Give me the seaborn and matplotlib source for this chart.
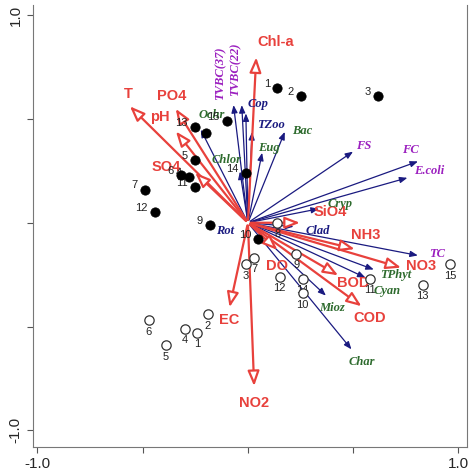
import matplotlib
matplotlib.use("Agg")
import matplotlib.pyplot as plt
import seaborn as sns
import pandas as pd

sns.set_style("ticks")
plt.rcParams['font.family'] = ['Liberation Sans', 'DejaVu Sans']

# Environmental variables (red)
env_names = ["Chl-a", "T", "PO4", "pH", "SO4", "SiO4", "NH3", "NO3", "BOD", "COD", "DO", "EC", "NO2"]
env_x = [0.04, -0.57, -0.35, -0.35, -0.26, 0.26, 0.52, 0.74, 0.44, 0.55, 0.15, -0.09, 0.03]
env_y = [0.81, 0.57, 0.56, 0.45, 0.25, 0.00, -0.13, -0.22, -0.26, -0.41, -0.14, -0.42, -0.80]
env_lx = [0.13, -0.57, -0.36, -0.42, -0.39, 0.39, 0.56, 0.82, 0.50, 0.58, 0.14, -0.09, 0.03]
env_ly = [0.87, 0.62, 0.61, 0.51, 0.27, 0.05, -0.06, -0.21, -0.29, -0.46, -0.21, -0.47, -0.87]

# Species / bacteria (blue arrows)
sp_names = ["TVBC(37)", "TVBC(22)", "Cop", "TZoo", "Bac", "Eug", "Chlor", "Ochr", "Rot",
            "Cryp", "Clad", "TC", "TPhyt", "Cyan", "Mioz", "Char", "FS", "FC", "E.coli"]
sp_x = [-0.07, -0.03, -0.01, 0.02, 0.18, 0.07, -0.04, -0.23, 0.0,
        0.35, 0.23, 0.82, 0.61, 0.57, 0.38, 0.50, 0.51, 0.82, 0.77]
sp_y = [0.58, 0.58, 0.54, 0.45, 0.45, 0.35, 0.26, 0.46, 0.0,
        0.07, -0.02, -0.16, -0.23, -0.27, -0.36, -0.62, 0.35, 0.30, 0.22]
sp_lx = [-0.13, -0.06, 0.05, 0.11, 0.26, 0.10, -0.10, -0.17, -0.11,
         0.44, 0.33, 0.90, 0.70, 0.66, 0.40, 0.54, 0.55, 0.77, 0.86]
sp_ly = [0.72, 0.74, 0.57, 0.47, 0.44, 0.36, 0.30, 0.52, -0.04,
         0.09, -0.04, -0.15, -0.25, -0.33, -0.41, -0.67, 0.37, 0.35, 0.25]
sp_colors = ["#9b1fbf", "#9b1fbf", "#1a1a80", "#1a1a80", "#2e6b2e", "#2e6b2e", "#2e6b2e", "#2e6b2e", "#1a1a80",
             "#2e6b2e", "#1a1a80", "#9b1fbf", "#2e6b2e", "#2e6b2e", "#2e6b2e", "#2e6b2e", "#9b1fbf", "#9b1fbf", "#9b1fbf"]

# Sites: filled (one season) and open (other season)
fill_lab = ["1", "2", "3", "15", "13", "8", "5", "14", "6", "4", "11", "7", "12", "9", "10"]
fill_x = [0.14, 0.25, 0.62, -0.10, -0.25, -0.20, -0.25, -0.01, -0.32, -0.28, -0.25, -0.49, -0.44, -0.18, 0.05]
fill_y = [0.65, 0.61, 0.61, 0.49, 0.46, 0.43, 0.30, 0.24, 0.23, 0.22, 0.17, 0.16, 0.05, -0.01, -0.08]
open_lab = ["8", "7", "3", "9", "12", "14", "10", "11", "13", "15", "2", "6", "4", "1", "5"]
open_x = [0.14, 0.03, -0.01, 0.23, 0.15, 0.26, 0.26, 0.58, 0.83, 0.96, -0.19, -0.47, -0.30, -0.24, -0.39]
open_y = [0.0, -0.17, -0.20, -0.15, -0.26, -0.27, -0.34, -0.27, -0.30, -0.20, -0.44, -0.47, -0.51, -0.53, -0.59]

fig = plt.figure(figsize=(4.74, 4.74), dpi=100)
ax = fig.add_axes([0.07, 0.057, 0.915, 0.933])

red = "#e8413c"
for x, y in zip(sp_x, sp_y):
    if x == 0 and y == 0:
        continue
    ax.annotate("", xy=(x, y), xytext=(0, 0),
                arrowprops=dict(arrowstyle="-|>,head_length=0.45,head_width=0.18",
                                color="#1a1a80", lw=0.9))
for x, y in zip(env_x, env_y):
    ax.annotate("", xy=(x, y), xytext=(0, 0),
                arrowprops=dict(arrowstyle="-|>,head_length=0.9,head_width=0.35",
                                edgecolor=red, facecolor="white", lw=1.6))

for n, x, y in zip(env_names, env_lx, env_ly):
    ax.text(x, y, n, color=red, fontsize=10.5, fontweight="bold", ha="center", va="center")
for n, x, y, c in zip(sp_names, sp_lx, sp_ly, sp_colors):
    rot = 90 if n.startswith("TVBC") else 0
    ax.text(x, y, n, color=c, fontsize=9, fontstyle="italic", fontweight="bold",
            fontfamily="Liberation Serif", ha="center", va="center", rotation=rot)

df_f = pd.DataFrame({"x": fill_x, "y": fill_y})
df_o = pd.DataFrame({"x": open_x, "y": open_y})
sns.scatterplot(data=df_f, x="x", y="y", color="black", s=45, edgecolor="black", ax=ax, zorder=5)
sns.scatterplot(data=df_o, x="x", y="y", facecolor="white", edgecolor="#333333", s=45, linewidth=0.9, ax=ax, zorder=5)
for l, x, y in zip(fill_lab, fill_x, fill_y):
    ax.text(x - 0.035, y + 0.02, l, fontsize=8, ha="right", va="center", color="#222222")
for l, x, y in zip(open_lab, open_x, open_y):
    ax.text(x, y - 0.055, l, fontsize=8, ha="center", va="center", color="#222222")

ax.set_xlim(-1.02, 1.04)
ax.set_ylim(-1.08, 1.05)
ax.set_xticks([-1.0, -0.5, 0, 0.5, 1.0])
ax.set_xticklabels(["-1.0", "", "", "", "1.0"])
ax.set_yticks([-1.0, -0.5, 0, 0.5, 1.0])
ax.set_yticklabels(["-1.0", "", "", "", "1.0"], rotation=90, va="center")
ax.tick_params(labelsize=11, direction="out", length=4, color="#555555")
ax.set_xlabel("")
ax.set_ylabel("")
for s in ["left", "bottom", "right"]:
    ax.spines[s].set_color("#777777")
ax.spines["top"].set_visible(False)
fig.savefig("out.png", dpi=100)
